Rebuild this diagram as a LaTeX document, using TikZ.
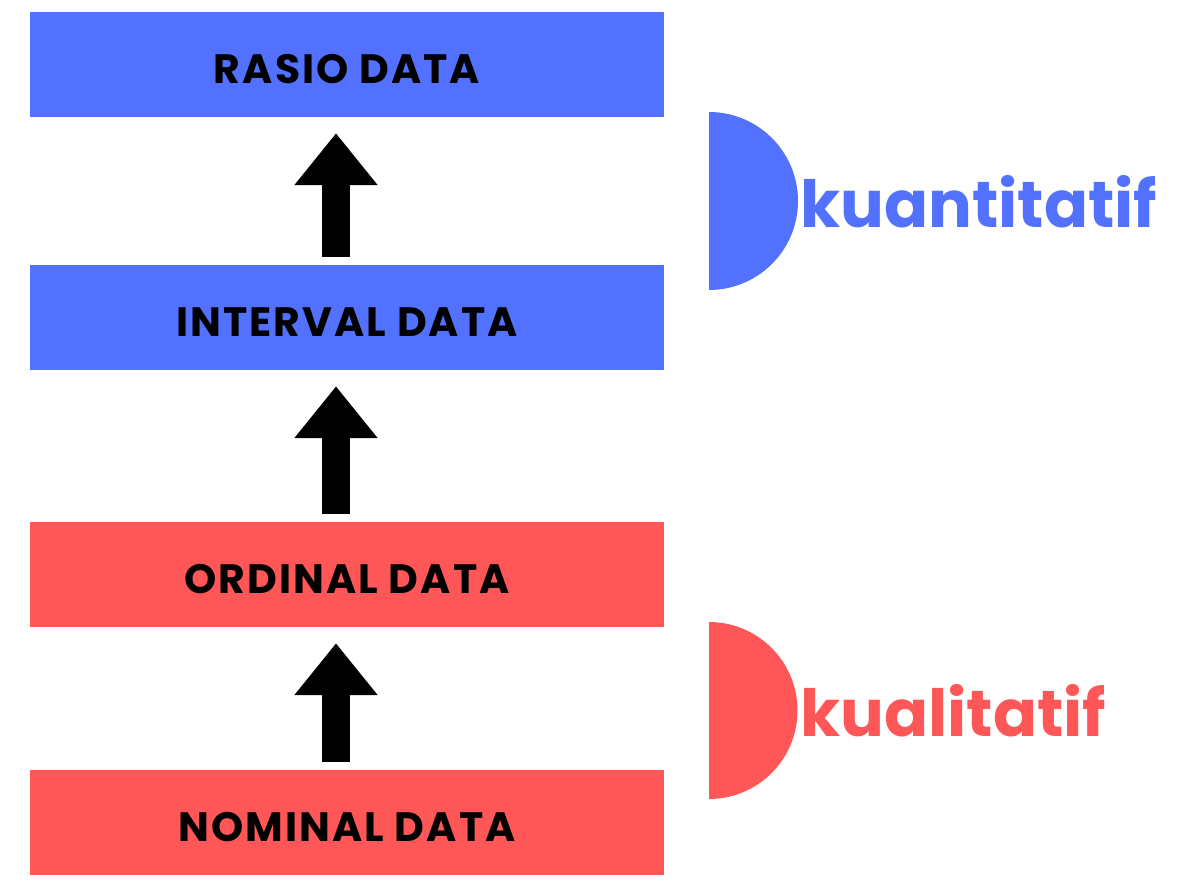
\documentclass[tikz,border=0pt]{standalone}
\usepackage{fontspec}
\setmainfont{Poppins}
\usetikzlibrary{arrows.meta,positioning}
\definecolor{LevelBlue}{HTML}{5271FF}
\definecolor{LevelRed}{HTML}{FF5757}
\tikzset{
  levelbox/.style={minimum width=634pt, minimum height=105pt, inner sep=0pt,
    text height=38pt, text depth=0pt,
    font=\fontsize{41}{44}\selectfont\bfseries\addfontfeatures{LetterSpace=5}},
  uparrow/.style={-{Triangle[length=52pt,width=80pt]}, line width=28pt,
    draw=black, shorten <=8pt, shorten >=16pt},
  kindlabel/.style={anchor=base west, inner sep=0pt,
    font=\fontsize{65}{70}\selectfont\bfseries}
}

\begin{document}
\begin{tikzpicture}[x=1pt, y=-1pt]
\useasboundingbox (0,0) rectangle (1186,889);

% measurement levels, top to bottom
\node[levelbox, fill=LevelBlue] at (347,64.5) (rasio) {RASIO DATA};
\node[levelbox, fill=LevelBlue] at (347,317.5) (interval) {INTERVAL DATA};
\node[levelbox, fill=LevelRed] at (347,574.5) (ordinal) {ORDINAL DATA};
\node[levelbox, fill=LevelRed] at (347,822.5) (nominal) {NOMINAL DATA};

% each level builds on the one below
\draw[uparrow] ([xshift=-11pt]interval.north) -- ([xshift=-11pt]rasio.south);
\draw[uparrow] ([xshift=-11pt]ordinal.north) -- ([xshift=-11pt]interval.south);
\draw[uparrow] ([xshift=-11pt]nominal.north) -- ([xshift=-11pt]ordinal.south);

% half discs with the group names
\fill[LevelBlue] (709,112) arc[start angle=-90, end angle=90, radius=89] -- cycle;
\node[kindlabel, text=LevelBlue] at (800,227) (kuant) {kuantitatif};
\fill[LevelRed] (709,622) arc[start angle=-90, end angle=90, radius=88.5] -- cycle;
\node[kindlabel, text=LevelRed] at (800,736) (kual) {kualitatif};
\end{tikzpicture}
\end{document}
